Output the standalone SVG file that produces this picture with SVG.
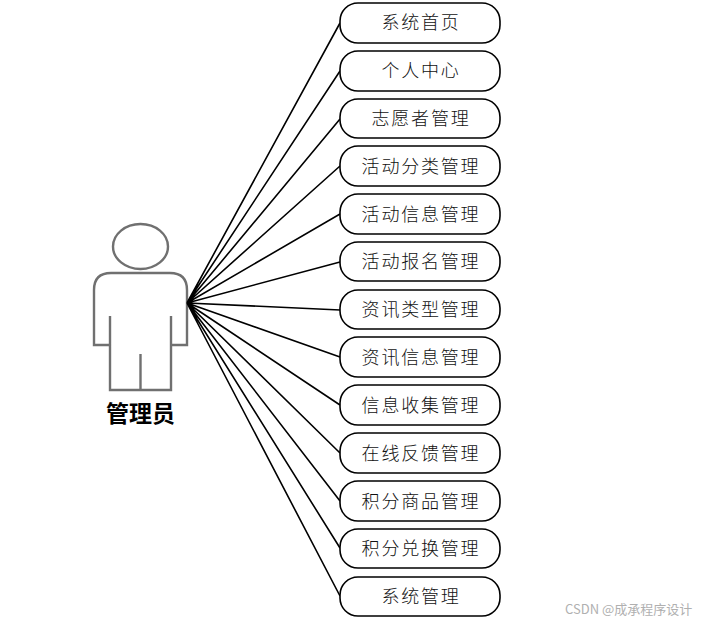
<svg xmlns="http://www.w3.org/2000/svg" width="704" height="622" viewBox="0 0 704 622">
<style>
.b{fill:#fff;stroke:#000;stroke-width:1.6}
.t{font-family:"Noto Sans CJK SC","Liberation Serif",serif;font-size:18px;letter-spacing:1.8px;text-anchor:middle;fill:#111;font-weight:300}
.c{stroke:#000;stroke-width:1.6;fill:none}
.p{fill:none;stroke:#707070;stroke-width:2.4}
</style>
<defs><filter id="soft" x="-10%" y="-10%" width="120%" height="120%"><feGaussianBlur stdDeviation="0.5"/></filter></defs>
<rect width="704" height="622" fill="#fff"/>
<g id="actor">
<g filter="url(#soft)">
<ellipse class="p" cx="140.500" cy="246.500" rx="27.500" ry="22.500"/>
<path class="p" d="M110 345H94V290Q94 273 111 273H170Q187 273 187 290V345H171M110 316V390H171V316M140.500 354V390"/>
</g>
<text x="140.500" y="422" style="font-family:'Noto Sans CJK SC',serif;font-size:23px;font-weight:700;text-anchor:middle;fill:#000">管理员</text>
</g>
<g id="connectors">
<path class="c" d="M187 303L340 23M187 303L340 71M187 303L340 119M187 303L340 166M187 303L340 214M187 303L340 262M187 303L340 310M187 303L340 357M187 303L340 405M187 303L340 453M187 303L340 501M187 303L340 548M187 303L340 596"/>
</g>
<g id="n1"><rect class="b" x="340" y="3" width="160" height="40" rx="18"/><text class="t" x="421" y="29">系统首页</text></g>
<g id="n2"><rect class="b" x="340" y="51" width="160" height="40" rx="18"/><text class="t" x="421" y="77">个人中心</text></g>
<g id="n3"><rect class="b" x="340" y="99" width="160" height="39" rx="18"/><text class="t" x="421" y="125">志愿者管理</text></g>
<g id="n4"><rect class="b" x="340" y="146" width="160" height="40" rx="18"/><text class="t" x="421" y="173">活动分类管理</text></g>
<g id="n5"><rect class="b" x="340" y="194" width="160" height="40" rx="18"/><text class="t" x="421" y="221">活动信息管理</text></g>
<g id="n6"><rect class="b" x="340" y="242" width="160" height="39" rx="18"/><text class="t" x="421" y="268">活动报名管理</text></g>
<g id="n7"><rect class="b" x="340" y="290" width="160" height="39" rx="18"/><text class="t" x="421" y="316">资讯类型管理</text></g>
<g id="n8"><rect class="b" x="340" y="337" width="160" height="40" rx="18"/><text class="t" x="421" y="364">资讯信息管理</text></g>
<g id="n9"><rect class="b" x="340" y="385" width="160" height="40" rx="18"/><text class="t" x="421" y="412">信息收集管理</text></g>
<g id="n10"><rect class="b" x="340" y="433" width="160" height="40" rx="18"/><text class="t" x="421" y="460">在线反馈管理</text></g>
<g id="n11"><rect class="b" x="340" y="481" width="160" height="40" rx="18"/><text class="t" x="421" y="508">积分商品管理</text></g>
<g id="n12"><rect class="b" x="340" y="529" width="160" height="39" rx="18"/><text class="t" x="421" y="555">积分兑换管理</text></g>
<g id="n13"><rect class="b" x="340" y="577" width="160" height="39" rx="18"/><text class="t" x="421" y="603">系统管理</text></g>
<text x="565" y="614" style="font-family:'Noto Sans CJK SC',sans-serif;font-size:13px;fill:#b0b0b0">CSDN @成承程序设计</text>
</svg>
